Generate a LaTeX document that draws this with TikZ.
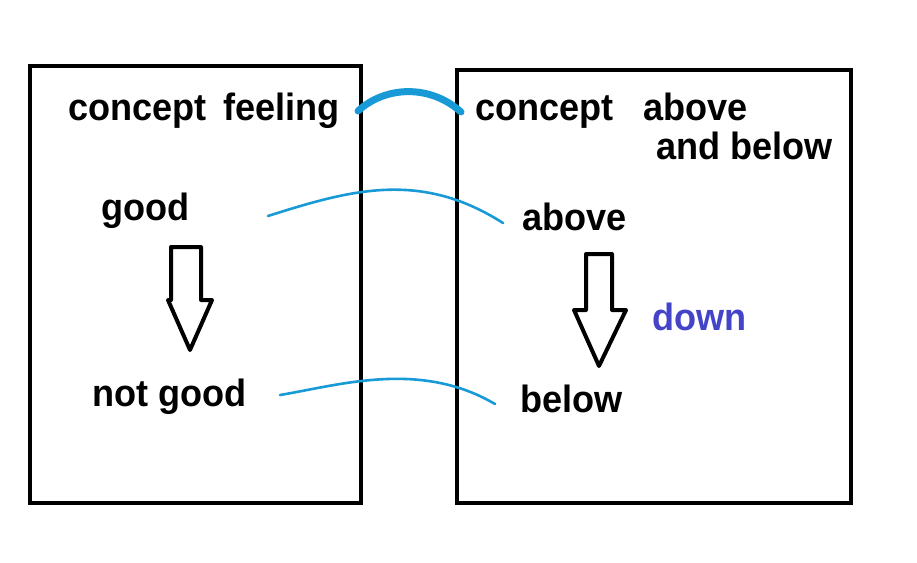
\documentclass[tikz,border=0pt]{standalone}
\usepackage{fontspec}
\setmainfont{Liberation Sans}[FakeStretch=0.95]
\definecolor{linkblue}{RGB}{24,154,214}
\definecolor{downblue}{RGB}{68,68,200}
\begin{document}
\begin{tikzpicture}[x=1pt,y=-1pt,
  lbl/.style={anchor=base west,inner sep=0pt,font=\fontsize{38}{44}\selectfont\bfseries},
  frame/.style={draw=black,line width=4pt,fill=none},
  blockarrow/.style={draw=black,line width=4pt,line join=round,fill=white},
  link/.style={draw=linkblue,line width=2.6pt,line cap=round},
  thicklink/.style={draw=linkblue,line width=7pt,line cap=round}]
\useasboundingbox (0,0) rectangle (917,562);
% boxes
\draw[frame] (30,66) rectangle (361,503);
\draw[frame] (457,70) rectangle (851,503);
% left texts
\node[lbl] (ltitle) at (68,120) {concept\hspace{17pt}feeling};
\node[lbl] (good) at (101,220) {good};
\node[lbl] (notgood) at (92,406) {not good};
% right texts
\node[lbl] (rtitle) at (475,120) {concept};
\node[lbl] (rabove) at (643,120) {above};
\node[lbl] (randbelow) at (656,159) {and below};
\node[lbl] (above) at (522,230) {above};
\node[lbl] (below) at (520,412) {below};
\node[lbl,text=downblue] (down) at (652,330) {down};
% block arrows
\draw[blockarrow] (171,247) -- (201,247) -- (201,300) -- (212,300) -- (190,350) -- (168,300) -- (171,300) -- cycle;
\draw[blockarrow] (586,254) -- (612,254) -- (612,310) -- (626,310) -- (599,366) -- (574,310) -- (586,310) -- cycle;
% connectors
\coordinate (g1) at (268,216);
\coordinate (a1) at (503,223);
\coordinate (n1) at (280,395);
\coordinate (b1) at (495,404);
\coordinate (t1) at (358,111);
\coordinate (t2) at (461,112);
\path[thicklink] (t1) .. controls (385,86) and (430,84) .. (t2);
\path[link] (g1) .. controls (350,190) and (420,170) .. (a1);
\path[link] (n1) .. controls (340,385) and (420,360) .. (b1);
\end{tikzpicture}
\end{document}
